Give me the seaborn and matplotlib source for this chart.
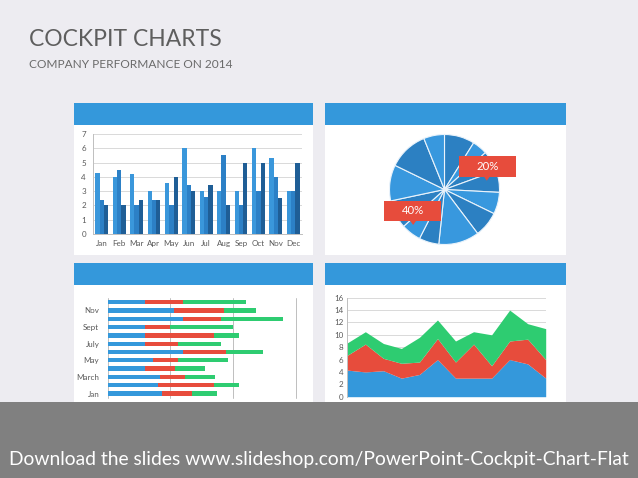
import matplotlib
matplotlib.use("Agg")
import matplotlib.pyplot as plt
from matplotlib.patches import Rectangle, Polygon
import numpy as np
import pandas as pd
import seaborn as sns

# data
months = ["Jan", "Feb", "Mar", "Apr", "May", "Jun", "Jul", "Aug", "Sep", "Oct", "Nov", "Dec"]
series_a = [4.3, 4.0, 4.2, 3.0, 3.6, 6.0, 3.0, 3.0, 3.0, 6.0, 5.3, 3.0]
series_b = [2.4, 4.5, 2.0, 2.4, 2.0, 3.4, 2.6, 5.5, 2.0, 3.0, 4.0, 3.0]
series_c = [2.0, 2.0, 2.4, 2.4, 4.0, 3.0, 3.4, 2.0, 5.0, 5.0, 2.5, 5.0]
hbar_labels = ["Jan", "Feb", "March", "Apr", "May", "June", "July", "Aug", "Sept", "Oct", "Nov", "Dec"]
pie_shares = [32, 16, 22, 23, 23, 27, 43, 21, 21, 30, 38, 42, 22]
callouts = ["20%", "40%"]

BG = "#EDECF1"
BLUE = "#3498DB"
RED = "#E74C3C"
GREEN = "#2ECC71"
BAR_COLORS = ["#3A97DB", "#2C80C6", "#1F5E96"]
PIE_DARK, PIE_LIGHT = "#2C80C2", "#3898DE"
TXT = "#595959"
GRID = "#D9D9D9"

sns.set_theme(style="white")
plt.rcParams["font.family"] = ["Lato", "DejaVu Sans"]

W, H = 638, 478
fig = plt.figure(figsize=(W / 100, H / 100), dpi=100)
fig.patch.set_facecolor(BG)


def box(x0, y0, x1, y1):
    return [x0 / W, 1 - y1 / H, (x1 - x0) / W, (y1 - y0) / H]


def rect(x0, y0, x1, y1, color, z):
    fig.add_artist(Rectangle((x0 / W, 1 - y1 / H), (x1 - x0) / W, (y1 - y0) / H,
                             transform=fig.transFigure, facecolor=color,
                             edgecolor="none", zorder=z))


def fit_width(txt, width_px):
    # scale a text so it spans the same width as on the slide
    r = fig.canvas.get_renderer()
    w = txt.get_window_extent(renderer=r).width
    txt.set_fontsize(txt.get_fontsize() * width_px / w)


# panels and header strips
for x0, y0, x1, y1 in [(74, 103, 313, 255), (325, 103, 566, 255),
                       (74, 263, 313, 402), (325, 263, 566, 402)]:
    rect(x0, y0, x1, y1, "white", -10)
    rect(x0, y0, x1, y0 + 22, BLUE, -9)

title = fig.text(29 / W, 1 - 46.5 / H, "COCKPIT CHARTS", fontsize=17, color="#5E5E5E",
                 va="baseline")
sub = fig.text(29 / W, 1 - 68.5 / H, "COMPANY PERFORMANCE ON 2014", fontsize=8.6,
               color="#6A6A6A", va="baseline")
fit_width(title, 192)
fit_width(sub, 202)


def style_axis(ax):
    ax.set_facecolor("none")
    for s in ax.spines.values():
        s.set_visible(False)
    ax.tick_params(labelsize=5.8, labelcolor=TXT, colors="#A6A6A6", length=0, pad=3)
    ax.set_xlabel("")
    ax.set_ylabel("")


# grouped column chart
ax1 = fig.add_axes(box(93, 134, 302, 234))
df = pd.DataFrame({
    "month": months * 3,
    "value": series_a + series_b + series_c,
    "series": ["a"] * 12 + ["b"] * 12 + ["c"] * 12,
})
sns.barplot(data=df, x="month", y="value", hue="series", palette=BAR_COLORS,
            width=0.74, gap=0, saturation=1, linewidth=0, legend=False,
            errorbar=None, ax=ax1)
style_axis(ax1)
ax1.set_ylim(0, 7)
ax1.set_xlim(-0.5, 11.5)
ax1.set_yticks(range(8))
ax1.yaxis.grid(True, color=GRID, lw=0.7)
ax1.set_axisbelow(True)
for s in ("left", "bottom"):
    ax1.spines[s].set_visible(True)
    ax1.spines[s].set_color("#BFBFBF")
    ax1.spines[s].set_linewidth(0.7)
ax1.tick_params(axis="y", length=2, width=0.6, pad=3)
ax1.set_xticks(np.arange(-0.5, 12, 1), minor=True)
ax1.tick_params(axis="x", which="minor", length=3, width=0.6, color="#BFBFBF")
ax1.tick_params(axis="x", pad=4)

# pie
ax2 = fig.add_axes(box(444.5 - 68.75, 189.5 - 68.75, 444.5 + 68.75, 189.5 + 68.75))
pie_colors = [PIE_DARK, PIE_LIGHT, PIE_DARK, PIE_DARK, PIE_LIGHT, PIE_DARK, PIE_LIGHT,
              PIE_DARK, PIE_LIGHT, PIE_DARK, PIE_LIGHT, PIE_DARK, PIE_LIGHT]
ax2.pie(pie_shares, colors=pie_colors, startangle=90, counterclock=False,
        wedgeprops={"edgecolor": "#EAF3FB", "linewidth": 0.8})
ax2.set_xlim(-1.25, 1.25)
ax2.set_ylim(-1.25, 1.25)
ax2.set_aspect("equal")


def callout(ax, x0, x1, y0, y1, tip, label):
    ax.add_patch(Rectangle((x0, y0), x1 - x0, y1 - y0, facecolor=RED,
                           edgecolor="none", zorder=5, clip_on=False))
    ax.add_patch(Polygon([(tip[0] - 0.06, y0 + 0.01), (tip[0] + 0.06, y0 + 0.01), tip],
                         facecolor=RED, edgecolor="none", zorder=5, clip_on=False))
    ax.text((x0 + x1) / 2, (y0 + y1) / 2, label, color="white", fontsize=8.2,
            ha="center", va="center", zorder=6)


callout(ax2, 0.27, 1.30, 0.233, 0.61, (0.77, 0.16), callouts[0])
callout(ax2, -1.095, -0.064, -0.573, -0.204, (-0.57, -0.645), callouts[1])

# stacked horizontal bars
ax3 = fig.add_axes(box(107.7, 298, 295.7, 397.7))
order = hbar_labels[::-1]
lvl1 = np.array(series_a)
lvl2 = lvl1 + np.array(series_b)
lvl3 = lvl2 + np.array(series_c)
for vals, col in [(lvl3, GREEN), (lvl2, RED), (lvl1, BLUE)]:
    sns.barplot(x=vals, y=hbar_labels, order=order, orient="y", color=col,
                width=0.52, saturation=1, linewidth=0, errorbar=None, ax=ax3)
style_axis(ax3)
ax3.set_xlim(0, 15)
ax3.set_ylim(11.5, -0.5)
ax3.set_xticks([0, 5, 10, 15])
ax3.xaxis.grid(True, color="#BFBFBF", lw=0.7)
for gl in ax3.get_xgridlines():
    gl.set_clip_on(False)
ax3.set_axisbelow(True)
shown = hbar_labels[::2]
ax3.set_yticks([order.index(m) for m in shown], shown)
ax3.tick_params(axis="y", pad=6)

# stacked area
ax4 = fig.add_axes(box(347.3, 297.7, 545.7, 396.7))
xs = np.arange(len(months))
ax4.stackplot(xs, series_a, series_b, series_c, colors=[BLUE, RED, GREEN], lw=0)
style_axis(ax4)
ax4.set_xlim(0, 11)
ax4.set_ylim(0, 16)
ax4.set_yticks(range(0, 17, 2))
ax4.set_xticks(xs, [""] * len(xs))
ax4.yaxis.grid(True, color=GRID, lw=0.7)
ax4.set_axisbelow(True)
ax4.spines["left"].set_visible(True)
ax4.spines["left"].set_color("#BFBFBF")
ax4.spines["left"].set_linewidth(0.7)
ax4.tick_params(axis="x", length=3, width=0.6, color="#BFBFBF")

# bottom banner
rect(0, 402, W, H, "#808080", 10)
banner = fig.text(0.5, 1 - 465 / H,
                  "Download the slides www.slideshop.com/PowerPoint-Cockpit-Chart-Flat",
                  fontsize=14, color="white", ha="center", va="baseline", zorder=11)
fit_width(banner, 622)

fig.savefig("out.png", dpi=100, facecolor=BG)
